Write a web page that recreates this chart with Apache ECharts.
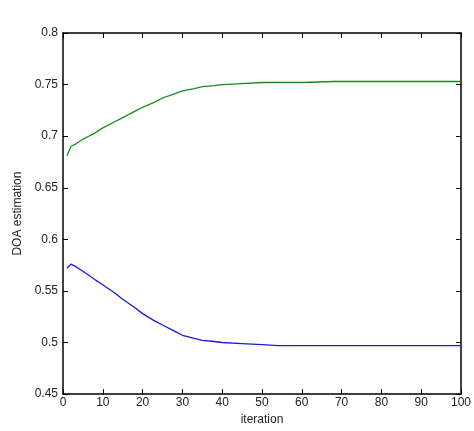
<!DOCTYPE html>
<html><head><meta charset="utf-8">
<script src="https://cdn.jsdelivr.net/npm/echarts@6/dist/echarts.min.js"></script>
<style>html,body{margin:0;background:#fff}#c{width:474px;height:431px}</style>
</head><body><div id="c"></div>
<script>
const iterations = [1, 2, 3, 5, 8, 10, 13, 15, 18, 20, 23, 25, 28, 30, 33, 35, 38, 40, 45, 50, 54, 60, 68, 70, 80, 90, 100];
const greenDoa = [0.681, 0.690, 0.692, 0.697, 0.703, 0.708, 0.714, 0.718, 0.724, 0.728, 0.733, 0.737, 0.741, 0.744, 0.746, 0.748, 0.749, 0.750, 0.751, 0.752, 0.752, 0.752, 0.753, 0.753, 0.753, 0.753, 0.753];
const blueDoa = [0.572, 0.576, 0.574, 0.569, 0.561, 0.556, 0.548, 0.542, 0.534, 0.528, 0.521, 0.517, 0.511, 0.507, 0.504, 0.502, 0.501, 0.500, 0.499, 0.498, 0.497, 0.497, 0.497, 0.497, 0.497, 0.497, 0.497];
const yTicks = ['0.45', '0.5', '0.55', '0.6', '0.65', '0.7', '0.75', '0.8'];

const chart = echarts.init(document.getElementById('c'));
const font = { fontFamily: 'Liberation Sans', fontSize: 12, color: '#222' };
const axisBase = () => ({
    axisLine: { onZero: false, lineStyle: { color: '#000', width: 1.5 } },
    axisTick: { inside: true, length: 5, lineStyle: { color: '#000' } },
    splitLine: { show: false }
});
chart.setOption({
    animation: false,
    grid: { left: 63, right: 10, top: 33, bottom: 10, containLabel: false },
    xAxis: [
        Object.assign({ type: 'value', min: 0, max: 100, interval: 10, position: 'bottom',
            name: 'iteration', nameLocation: 'middle', nameGap: 13,
            nameTextStyle: font, axisLabel: Object.assign({ margin: 3 }, font) }, axisBase()),
        Object.assign({ type: 'value', min: 0, max: 100, interval: 10, position: 'top',
            axisLabel: { show: false } }, axisBase())
    ],
    yAxis: [
        Object.assign({ type: 'value', min: 0.45, max: 0.8, interval: 0.05, position: 'left',
            name: 'DOA estimation', nameLocation: 'middle', nameGap: 38,
            nameTextStyle: font,
            axisLabel: Object.assign({ margin: 5, formatter: (v) => yTicks[Math.round((v - 0.45) / 0.05)] }, font) }, axisBase()),
        Object.assign({ type: 'value', min: 0.45, max: 0.8, interval: 0.05, position: 'right',
            axisLabel: { show: false } }, axisBase())
    ],
    series: [
        { type: 'line', showSymbol: false, data: iterations.map((x, i) => [x, greenDoa[i]]),
          lineStyle: { color: '#1a8a1a', width: 1.3 } },
        { type: 'line', showSymbol: false, data: iterations.map((x, i) => [x, blueDoa[i]]),
          lineStyle: { color: '#1a1ad6', width: 1.3 } }
    ]
});
</script></body></html>
